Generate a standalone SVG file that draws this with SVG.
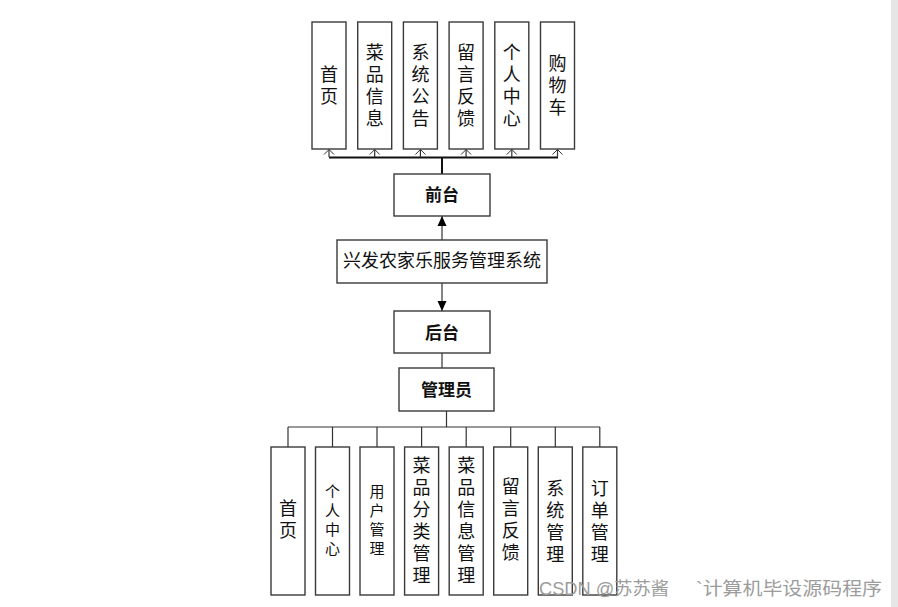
<svg xmlns="http://www.w3.org/2000/svg" width="898" height="607" viewBox="0 0 898 607">
<style>
.box{fill:#ffffff;stroke:#3a3a3a;stroke-width:1.4}
.t{font-family:"Noto Sans CJK SC","Noto Sans CJK JP",sans-serif;font-size:18px;fill:#111;text-anchor:middle}
.v{font-family:"Noto Sans CJK SC","Noto Sans CJK JP",sans-serif;font-size:18px;fill:#111;text-anchor:middle;writing-mode:vertical-rl;letter-spacing:4px}
.vs{font-family:"Noto Sans CJK SC","Noto Sans CJK JP",sans-serif;font-size:15px;fill:#111;text-anchor:middle;writing-mode:vertical-rl;letter-spacing:4px}
.tb{font-family:"Noto Sans CJK SC","Noto Sans CJK JP",sans-serif;font-size:17px;font-weight:bold;fill:#111;text-anchor:middle}
.ln{stroke:#333;stroke-width:1.2;fill:none}
.lnb{stroke:#111;stroke-width:2;fill:none}
.wm{font-family:"Liberation Sans","Noto Sans CJK SC",sans-serif;font-size:18px;fill:#9c9c9c}
</style>
<defs>
<marker id="open" viewBox="-7 -6 8 12" refX="0" refY="0" markerWidth="8" markerHeight="12" markerUnits="userSpaceOnUse" orient="auto">
<path d="M-5,-5 L0,0 L-5,5" fill="none" stroke="#333" stroke-width="1"/>
</marker>
<marker id="fill" viewBox="-11 -5 11 10" refX="0" refY="0" markerWidth="11" markerHeight="10" markerUnits="userSpaceOnUse" orient="auto">
<path d="M-10,-4.5 L0,0 L-10,4.5 Z" fill="#000"/>
</marker>
</defs>
<rect x="0" y="0" width="898" height="607" fill="#ffffff"/>
<rect x="891" y="0" width="7" height="607" fill="#e6e6e6"/>

<g id="connectors">
<line class="lnb" x1="329" y1="157.5" x2="558" y2="157.5"/>
<line class="lnb" x1="442" y1="157" x2="442" y2="174"/>
<line class="ln" x1="329" y1="157" x2="329" y2="149.5" marker-end="url(#open)"/>
<line class="ln" x1="374.7" y1="157" x2="374.7" y2="149.5" marker-end="url(#open)"/>
<line class="ln" x1="420.4" y1="157" x2="420.4" y2="149.5" marker-end="url(#open)"/>
<line class="ln" x1="466.1" y1="157" x2="466.1" y2="149.5" marker-end="url(#open)"/>
<line class="ln" x1="511.8" y1="157" x2="511.8" y2="149.5" marker-end="url(#open)"/>
<line class="ln" x1="557.5" y1="157" x2="557.5" y2="149.5" marker-end="url(#open)"/>
<line class="ln" x1="442" y1="240" x2="442" y2="216" marker-end="url(#fill)"/>
<line class="ln" x1="442" y1="283" x2="442" y2="311" marker-end="url(#fill)"/>
<line class="ln" x1="442" y1="353" x2="442" y2="368"/>
<line class="ln" x1="446.5" y1="411" x2="446.5" y2="427"/>
<line class="ln" x1="288" y1="427" x2="600" y2="427"/>
<line class="ln" x1="288" y1="427" x2="288" y2="447"/>
<line class="ln" x1="332.5" y1="427" x2="332.5" y2="447"/>
<line class="ln" x1="377" y1="427" x2="377" y2="447"/>
<line class="ln" x1="421.6" y1="427" x2="421.6" y2="447"/>
<line class="ln" x1="466.2" y1="427" x2="466.2" y2="447"/>
<line class="ln" x1="510.7" y1="427" x2="510.7" y2="447"/>
<line class="ln" x1="555.3" y1="427" x2="555.3" y2="447"/>
<line class="ln" x1="599.8" y1="427" x2="599.8" y2="447"/>
</g>

<g id="front-home"><rect class="box" x="312" y="22" width="34" height="127"/>
<text class="v" x="329" y="87.5">首页</text></g>
<g id="front-dish"><rect class="box" x="357.7" y="22" width="34" height="127"/>
<text class="v" x="374.7" y="87.5">菜品信息</text></g>
<g id="front-notice"><rect class="box" x="403.4" y="22" width="34" height="127"/>
<text class="v" x="420.4" y="87.5">系统公告</text></g>
<g id="front-feedback"><rect class="box" x="449.1" y="22" width="34" height="127"/>
<text class="v" x="466.1" y="87.5">留言反馈</text></g>
<g id="front-personal"><rect class="box" x="494.8" y="22" width="34" height="127"/>
<text class="v" x="511.8" y="87.5">个人中心</text></g>
<g id="front-cart"><rect class="box" x="540.5" y="22" width="34" height="127"/>
<text class="v" x="557.5" y="87.5">购物车</text></g>

<g id="frontend"><rect class="box" x="394" y="174" width="96" height="42"/>
<text class="tb" x="442" y="201">前台</text></g>
<g id="system"><rect class="box" x="337" y="240" width="210" height="43"/>
<text class="t" x="442" y="267">兴发农家乐服务管理系统</text></g>
<g id="backend"><rect class="box" x="394" y="311" width="96" height="42"/>
<text class="tb" x="442" y="339">后台</text></g>
<g id="admin"><rect class="box" x="399" y="368" width="95" height="43"/>
<text class="tb" x="446.5" y="396">管理员</text></g>

<g id="admin-home"><rect class="box" x="271" y="447" width="34" height="148"/>
<text class="v" x="288" y="521">首页</text></g>
<g id="admin-personal"><rect class="box" x="315.5" y="447" width="34" height="148"/>
<text class="vs" x="332.5" y="521.5">个人中心</text></g>
<g id="admin-user"><rect class="box" x="360" y="447" width="34" height="148"/>
<text class="vs" x="377" y="521.5">用户管理</text></g>
<g id="admin-category"><rect class="box" x="404.6" y="447" width="34" height="148"/>
<text class="v" x="421.6" y="522">菜品分类管理</text></g>
<g id="admin-dish"><rect class="box" x="449.2" y="447" width="34" height="148"/>
<text class="v" x="466.2" y="522">菜品信息管理</text></g>
<g id="admin-feedback"><rect class="box" x="493.7" y="447" width="34" height="148"/>
<text class="v" x="510.7" y="521">留言反馈</text></g>
<g id="admin-system"><rect class="box" x="538.3" y="447" width="34" height="148"/>
<text class="v" x="555.3" y="523">系统管理</text></g>
<g id="admin-order"><rect class="box" x="582.8" y="447" width="34" height="148"/>
<text class="v" x="599.8" y="523">订单管理</text></g>

<g id="watermark">
<text class="wm" x="539" y="595" textLength="130" lengthAdjust="spacingAndGlyphs">CSDN @苏苏酱</text>
<text class="wm" x="696" y="595" textLength="186" lengthAdjust="spacingAndGlyphs">`计算机毕设源码程序</text>
</g>
</svg>
